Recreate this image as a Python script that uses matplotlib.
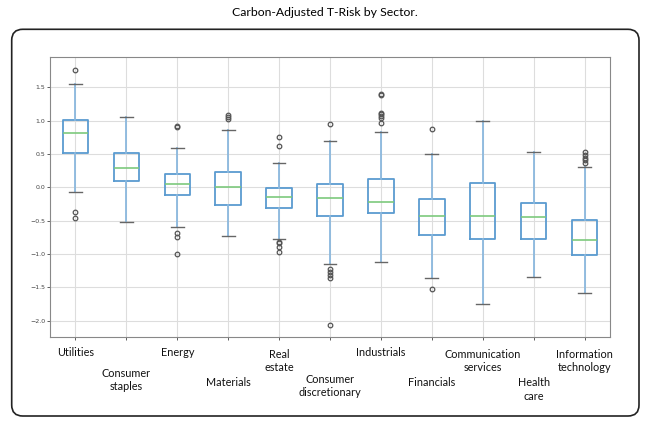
import matplotlib
matplotlib.use("Agg")
from matplotlib import pyplot as plt
from matplotlib import patches, transforms

sectors = ["Utilities", "Consumer\nstaples", "Energy", "Materials", "Real\nestate",
           "Consumer\ndiscretionary", "Industrials", "Financials", "Communication\nservices",
           "Health\ncare", "Information\ntechnology"]

# box stats
whislo = [-0.065, -0.52, -0.596, -0.73, -0.77, -1.146, -1.126, -1.36, -1.747, -1.35, -1.586]
q1 = [0.516, 0.10, -0.12, -0.265, -0.315, -0.425, -0.39, -0.71, -0.78, -0.77, -1.02]
med = [0.816, 0.295, 0.05, 0.01, -0.145, -0.155, -0.225, -0.43, -0.43, -0.45, -0.79]
q3 = [1.006, 0.516, 0.195, 0.235, -0.01, 0.055, 0.12, -0.17, 0.06, -0.24, -0.49]
whishi = [1.557, 1.061, 0.596, 0.866, 0.37, 0.696, 0.83, 0.495, 1.0, 0.525, 0.305]
fliers = [
    [1.757, -0.375, -0.465],
    [],
    [0.91, 0.92, -0.68, -0.75, -1.0],
    [1.086, 1.061, 1.02],
    [0.76, 0.625, -0.815, -0.84, -0.89, -0.965],
    [0.956, -1.226, -1.266, -1.316, -1.366, -2.067],
    [1.40, 1.38, 1.12, 1.10, 1.07, 1.035, 0.97],
    [0.876, -1.52],
    [],
    [],
    [0.525, 0.485, 0.445, 0.405, 0.36],
]

# label centres in pixels from the top of the image
label_y = [353, 380, 353, 383, 361, 386, 353, 383, 361, 389.5, 361]

stats = []
for i in range(len(sectors)):
    stats.append({"whislo": whislo[i], "q1": q1[i], "med": med[i], "q3": q3[i],
                  "whishi": whishi[i], "fliers": fliers[i]})

W, H = 650, 424
fig = plt.figure(figsize=(W / 100, H / 100), dpi=100)
ax = fig.add_axes([50 / W, 1 - 337.3 / H, 560 / W, 280 / H])

blue = "#5a9bd0"
ax.bxp(stats, positions=range(1, len(sectors) + 1), widths=0.5,
       boxprops=dict(color=blue, linewidth=1.3),
       whiskerprops=dict(color="#8ab8de", linewidth=1.3),
       capprops=dict(color="#666666", linewidth=1.0),
       medianprops=dict(color="#7dc97d", linewidth=1.2),
       flierprops=dict(marker="o", markerfacecolor="none", markeredgecolor="#555555",
                       markersize=3.3, markeredgewidth=0.9))

ax.set_xlim(0.5, 11.5)
ax.set_ylim(-2.25, 1.952)
ax.set_yticks([-2.0, -1.5, -1.0, -0.5, 0.0, 0.5, 1.0, 1.5])
ax.tick_params(axis="y", labelsize=4.5, length=2, width=0.6, colors="#444444", pad=1.5)
ax.tick_params(axis="x", length=2, width=0.6, colors="#444444", labelbottom=False)
ax.grid(True, color="#dddddd", linewidth=0.8)
ax.set_axisbelow(True)
for s in ax.spines.values():
    s.set_color("#888888")
    s.set_linewidth(0.8)

trans = transforms.blended_transform_factory(ax.transData, fig.transFigure)
for i, lab in enumerate(sectors):
    fig.text(i + 1, 1 - label_y[i] / H, lab, transform=trans, ha="center", va="center",
             fontsize=7.8, family="Lato", color="#111111", linespacing=1.3)

fig.text(0.5, 1 - 12 / H, "Carbon-Adjusted T-Risk by Sector.", ha="center", va="center",
         fontsize=8.8, family="Lato", color="#000000")

frame = patches.FancyBboxPatch((0.117, 0.08), 6.273, 3.867,
                               boxstyle="round,pad=0,rounding_size=0.11",
                               transform=fig.dpi_scale_trans, fill=False,
                               edgecolor="#222222", linewidth=1.2)
fig.patches.append(frame)

fig.savefig("out.png", dpi=100)
